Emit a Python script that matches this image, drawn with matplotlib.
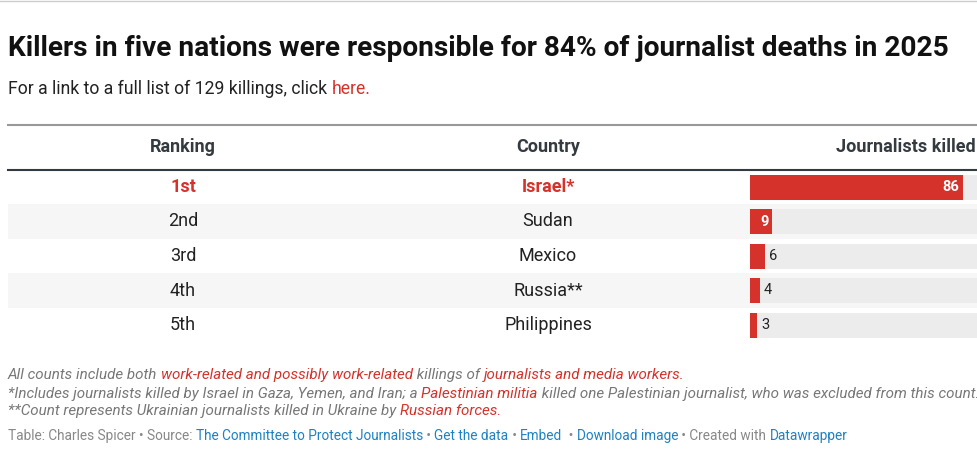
import matplotlib.pyplot as plt

ranks = ["1st", "2nd", "3rd", "4th", "5th"]
countries = ["Israel*", "Sudan", "Mexico", "Russia**", "Philippines"]
killed = [86, 9, 6, 4, 3]

RED = "#d4322a"
GREY = "#777777"
BLUE = "#1d81c2"
DARK = "#222222"
plt.rcParams['font.family'] = ['Roboto', 'DejaVu Sans']

fig = plt.figure(figsize=(9.77, 4.75), dpi=100)
ax = fig.add_axes([0, 0, 1, 1])
ax.set_xlim(0, 977)
ax.set_ylim(475, 0)
ax.axis("off")
r = fig.canvas.get_renderer()


def pieces(x, y, parts, size, style="normal"):
    for txt, col in parts:
        t = ax.text(x, y, txt, color=col, fontsize=size, style=style, va="center")
        x = ax.transData.inverted().transform(t.get_window_extent(r))[1][0]


ax.axhline(1, color="#cccccc", lw=1)
ax.text(8, 48, "Killers in five nations were responsible for 84% of journalist deaths in 2025",
        fontsize=20.2, weight="bold", color="#111111", va="center")
pieces(8, 89, [("For a link to a full list of 129 killings, click ", DARK), ("here.", RED)], 12.7)

# table header
ax.plot([8, 977], [125, 125], color="#999999", lw=1.5)
ax.plot([8, 977], [170, 170], color="#333a40", lw=1.5)
hy = 147
ax.text(183, hy, "Ranking", ha="center", va="center", fontsize=13, weight="bold", color="#333a40")
ax.text(548, hy, "Country", ha="center", va="center", fontsize=13, weight="bold", color="#333a40")
ax.text(836, hy, "Journalists killed", ha="left", va="center", fontsize=13, weight="bold", color="#333a40")

row_h = 34.5
x0 = 750
scale = 213 / killed[0]
ys = [187 + i * row_h for i in range(len(ranks))]
for i, y in enumerate(ys):
    if i % 2 == 1:
        ax.fill_between([8, 977], y - row_h / 2, y + row_h / 2, color="#f6f6f6", lw=0)
ax.barh(ys, [300] * len(ys), left=x0, height=25, color="#ececec")
ax.barh(ys, [v * scale for v in killed], left=x0, height=25, color=RED)
for i, (y, rk, c, v) in enumerate(zip(ys, ranks, countries, killed)):
    col = RED if i == 0 else DARK
    w = "bold" if i == 0 else "normal"
    ax.text(183, y, rk, ha="center", va="center", fontsize=13, color=col, weight=w)
    ax.text(548, y, c, ha="center", va="center", fontsize=13, color=col, weight=w)
    if v * scale > 20:
        ax.text(x0 + v * scale - 4, y, str(v), ha="right", va="center", fontsize=10.5,
                color="white", weight="bold")
    else:
        ax.text(x0 + v * scale + 4, y, str(v), ha="left", va="center", fontsize=10.5, color=DARK)

pieces(8, 375, [("All counts include both ", GREY), ("work-related and possibly work-related", RED),
                (" killings of ", GREY), ("journalists and media workers.", RED)], 10.9, "italic")
pieces(8, 394, [("*Includes journalists killed by Israel in Gaza, Yemen, and Iran; a ", GREY),
                ("Palestinian militia", RED),
                (" killed one Palestinian journalist, who was excluded from this count.", GREY)], 10.9, "italic")
pieces(8, 411, [("**Count represents Ukrainian journalists killed in Ukraine by ", GREY),
                ("Russian forces.", RED)], 10.9, "italic")
pieces(8, 436, [("Table: Charles Spicer \u2022 Source: ", "#888888"), ("The Committee to Protect Journalists", BLUE),
                (" \u2022 ", "#888888"), ("Get the data", BLUE), (" \u2022 ", "#888888"), ("Embed", BLUE),
                ("  \u2022 ", "#888888"), ("Download image", BLUE), (" \u2022 Created with ", "#888888"),
                ("Datawrapper", BLUE)], 9.85)

fig.savefig("out.png", dpi=100)
